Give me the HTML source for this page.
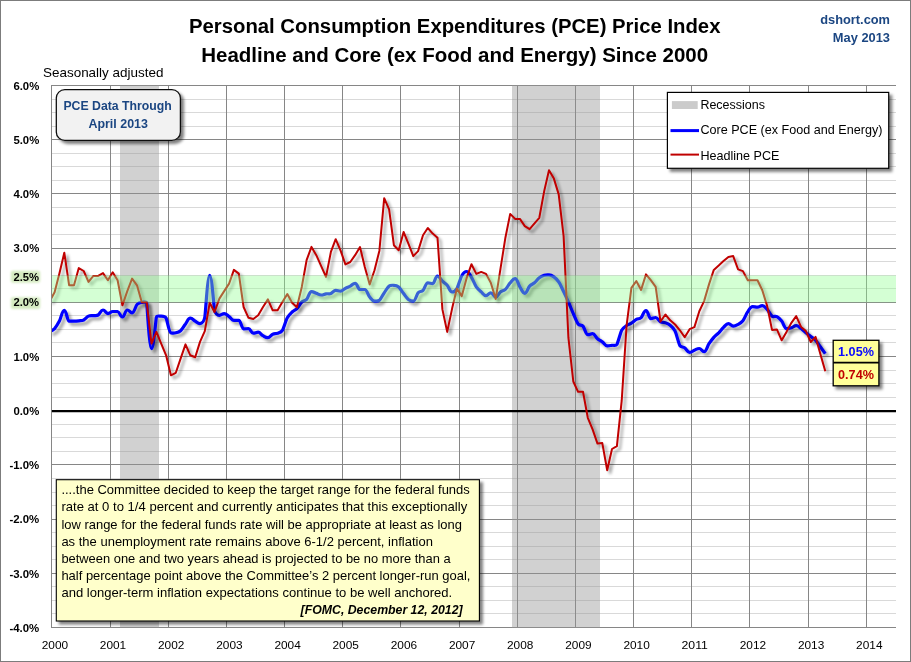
<!DOCTYPE html>
<html><head><meta charset="utf-8"><title>PCE Price Index</title>
<style>html,body{margin:0;padding:0;background:#fff}svg{display:block}text{font-family:"Liberation Sans",Arial,sans-serif}</style></head><body>
<svg width="911" height="662" viewBox="0 0 911 662">
<defs>
<filter id="ls" x="-5%" y="-20%" width="110%" height="140%"><feGaussianBlur in="SourceAlpha" stdDeviation="1.8"/><feOffset dx="2.8" dy="2.8"/><feComponentTransfer><feFuncA type="linear" slope="0.38"/></feComponentTransfer><feMerge><feMergeNode/><feMergeNode in="SourceGraphic"/></feMerge></filter>
<filter id="bs" x="-20%" y="-20%" width="150%" height="160%"><feGaussianBlur in="SourceAlpha" stdDeviation="1.6"/><feOffset dx="3" dy="3"/><feComponentTransfer><feFuncA type="linear" slope="0.5"/></feComponentTransfer><feMerge><feMergeNode/><feMergeNode in="SourceGraphic"/></feMerge></filter>
<filter id="gl" x="-20%" y="-30%" width="140%" height="160%"><feGaussianBlur stdDeviation="1.1"/></filter>
<linearGradient id="gg" x1="0" y1="0" x2="0" y2="1"><stop offset="0" stop-color="#f7f7f7"/><stop offset="1" stop-color="#e6e6e6"/></linearGradient>
<clipPath id="cp"><rect x="52" y="80" width="850" height="552"/></clipPath>
</defs>
<rect width="911" height="662" fill="#fff"/>
<path d="M52 99.5H896M52 112.5H896M52 126.5H896M52 153.5H896M52 166.5H896M52 180.5H896M52 207.5H896M52 221.5H896M52 234.5H896M52 261.5H896M52 275.5H896M52 288.5H896M52 315.5H896M52 329.5H896M52 342.5H896M52 370.5H896M52 383.5H896M52 397.5H896M52 424.5H896M52 437.5H896M52 451.5H896M52 478.5H896M52 492.5H896M52 505.5H896M52 532.5H896M52 546.5H896M52 559.5H896M52 586.5H896M52 600.5H896M52 613.5H896" stroke="#d9d9d9" stroke-width="1" fill="none"/>
<path d="M51 85.5H896M51 139.5H896M51 193.5H896M51 248.5H896M51 302.5H896M51 356.5H896M51 410.5H896M51 464.5H896M51 519.5H896M51 573.5H896M51 627.5H896M51.5 85V628M110.5 85V628M168.5 85V628M226.5 85V628M284.5 85V628M342.5 85V628M400.5 85V628M459.5 85V628M517.5 85V628M575.5 85V628M633.5 85V628M691.5 85V628M749.5 85V628M808.5 85V628M866.5 85V628" stroke="#868686" stroke-width="1" fill="none"/>
<rect x="120" y="85" width="39" height="543" fill="#949494" fill-opacity="0.43"/>
<rect x="512" y="85" width="88" height="543" fill="#949494" fill-opacity="0.43"/>
<path d="M51.9 411.1H896" stroke="#000" stroke-width="2.3"/>
<g clip-path="url(#cp)"><path d="M49.7 331.7C49.7 331.7 53 330.3 54.6 328.6C56.1 326.9 57.7 324.3 59.4 321.1C61.1 317.9 62.1 310.3 64.3 310.3C66.5 310.3 67.2 321.1 69.1 321.1C71.1 321.1 72 321.1 74 321.1C75.9 321.1 76.9 321 78.8 320.8C80.7 320.6 81.9 320.9 83.7 320C85.4 319.1 86.7 316.9 88.5 316.1C90.3 315.3 91.4 315.8 93.4 315.6C95.3 315.4 96.5 316 98.2 315C99.9 314 100.9 310 103 310C105.2 310 105.8 313.6 107.9 313.6C110 313.6 110.8 311.5 112.7 311.5C114.7 311.5 115.7 311.5 117.6 311.5C119.5 311.5 120.3 317 122.4 317C124.6 317 125.1 310 127.3 310C129.5 310 130 312.8 132.1 312.8C134.3 312.8 135.5 306.1 137 304.5C138.4 302.9 139.9 302.3 141.8 302.3C143.8 302.3 146.3 301.1 146.7 303C147.1 304.9 149.3 348.6 151.5 348.6C153.7 348.6 155.8 319.1 156.4 317.2C156.9 315.3 159.2 316.2 161.2 316.2C163.2 316.2 165 316.2 166.1 318C167.1 319.8 169 333 170.9 333C172.9 333 173.9 333.2 175.8 332.8C177.6 332.4 179 332.1 180.6 330.7C182.2 329.3 183.6 326.4 185.5 324C187.3 321.6 188.1 318.2 190.3 318.2C192.5 318.2 193.2 320 195.2 321.1C197.1 322.2 197.8 323.6 200 323.6C202.2 323.6 204.2 320.5 204.8 317.4C205.5 314.3 207.5 275.3 209.7 275.3C211.9 275.3 213.9 307.6 214.5 310.3C215.2 313 217.3 315.3 219.4 315.3C221.4 315.3 222.2 313.6 224.2 313.6C226.3 313.6 227.2 315.3 229.1 316.6C231 317.9 232 320.4 233.9 320.4C235.9 320.4 236.8 320.3 238.8 320.3C240.7 320.3 241.7 328.8 243.6 328.8C245.6 328.8 246.5 328.7 248.5 328.7C250.4 328.7 251.3 333.2 253.3 333.2C255.3 333.2 256.2 332.2 258.2 332.2C260.1 332.2 261.2 334.7 263 335.7C264.8 336.7 265.8 337.6 267.9 337.6C269.9 337.6 270.9 335 272.7 334.2C274.5 333.4 275.7 334 277.6 333.3C279.4 332.6 281.2 332.2 282.4 330.3C283.6 328.4 285.8 320.5 287.3 317.8C288.7 315.1 290.4 313.6 292.1 312C293.8 310.4 295.3 310.3 296.9 308.6C298.6 306.9 300.2 303.5 301.8 302C303.4 300.5 305.1 301 306.6 299.4C308.1 297.8 309.4 291.6 311.5 291.6C313.5 291.6 314.4 292.6 316.3 293.3C318.3 294 319.2 295 321.2 295C323.2 295 324.1 294.1 326 293.8C328 293.5 329.1 294.2 330.9 293.5C332.7 292.8 333.8 290.3 335.7 290.3C337.7 290.3 338.6 291.1 340.6 291.1C342.5 291.1 343.5 289.3 345.4 288.3C347.3 287.3 348.4 287.1 350.3 286.1C352.2 285.1 352.9 283.3 355.1 283.3C357.3 283.3 358 289.5 360 289.5C361.9 289.5 362.9 289.5 364.8 289.5C366.8 289.5 368 295.1 369.7 297C371.3 298.9 372.5 301.1 374.5 301.1C376.5 301.1 377.9 301.6 379.4 300.3C380.8 299 382.3 295.5 384.2 292.8C386.1 290.1 387.5 287.3 389.1 286.1C390.6 284.9 391.9 285.3 393.9 285.3C395.9 285.3 397.2 285.7 398.7 287C400.3 288.3 401.7 291.2 403.6 293.6C405.5 296 406.8 298.3 408.4 299.5C410.1 300.7 411.2 301.1 413.3 301.1C415.3 301.1 416.7 294.4 418.1 292.8C419.6 291.2 421.5 291.9 423 290.3C424.5 288.7 425.9 282.8 427.8 282.8C429.8 282.8 430.7 283.6 432.7 283.6C434.6 283.6 435.3 276.1 437.5 276.1C439.7 276.1 440.5 279.3 442.4 281.1C444.2 282.9 445.5 283.4 447.2 285.3C448.9 287.2 449.9 292 452.1 292C454.3 292 455.7 290.6 456.9 288.6C458.1 286.6 460.5 277.9 461.8 275.7C463 273.5 464.4 271.5 466.6 271.5C468.8 271.5 469.8 274.8 471.5 277.4C473.1 280 474.8 284.6 476.3 286.9C477.9 289.2 479.3 290.3 481.2 291.9C483 293.5 483.8 295.6 486 295.6C488.2 295.6 488.7 292.8 490.8 292.8C493 292.8 493.5 296.9 495.7 296.9C497.9 296.9 498.8 293.2 500.5 291.9C502.3 290.6 503.8 290.9 505.4 289.4C507 287.9 508.5 284.7 510.2 282.8C512 280.9 512.9 278.6 515.1 278.6C517.3 278.6 518.2 284.2 519.9 286.9C521.7 289.6 522.6 293.3 524.8 293.3C527 293.3 528 287.8 529.6 286.1C531.2 284.4 532.7 284.3 534.5 282.8C536.3 281.3 537.6 279.1 539.3 277.8C541 276.5 542.3 275.9 544.2 275.3C546 274.7 547.1 274.9 549 274.9C551 274.9 552.2 275.7 553.9 276.9C555.6 278.1 557.2 279.6 558.7 281.9C560.3 284.2 561.7 287.6 563.6 291.5C565.4 295.4 566.6 297.7 568.4 301.9C570.3 306.1 571.4 309.4 573.3 313.6C575.1 317.8 576.8 322.3 578.1 324C579.4 325.7 581.5 324.5 583 326.1C584.4 327.7 585.8 334.7 587.8 334.7C589.8 334.7 590.7 333.6 592.6 333.6C594.6 333.6 595.7 337.2 597.5 338.7C599.3 340.2 600.5 340.5 602.3 341.9C604.2 343.3 605.2 345.9 607.2 345.9C609.1 345.9 610.1 345.6 612 345.3C614 345 615.8 346.1 616.9 344.4C617.9 342.7 620.5 332.6 621.7 330.2C623 327.8 624.8 326.9 626.6 325.6C628.3 324.3 629.6 324.4 631.4 323.2C633.2 322 634.5 320.4 636.3 319.4C638.1 318.4 639.6 319.1 641.1 317.7C642.6 316.3 643.8 310.6 646 310.6C648.2 310.6 648.8 318.6 650.8 318.6C652.8 318.6 653.7 317.5 655.7 317.5C657.7 317.5 658.8 321 660.5 321.9C662.2 322.8 663.5 322.1 665.4 322.7C667.2 323.3 668.6 323.8 670.2 325.2C671.9 326.6 673.7 328.3 675.1 331.1C676.4 333.9 678.8 343.9 679.9 345.7C681 347.5 683 346.6 684.7 347.8C686.5 349 687.5 352.4 689.6 352.4C691.7 352.4 692.5 351 694.4 350.2C696.4 349.4 697.2 348.5 699.3 348.5C701.3 348.5 702 351.7 704.1 351.7C706.3 351.7 707.2 346.3 709 343.7C710.8 341.1 712.1 339.4 713.8 337.4C715.6 335.4 716.8 334.7 718.7 332.8C720.5 330.9 721.7 329.1 723.5 327.4C725.3 325.7 726.2 323.6 728.4 323.6C730.6 323.6 731.2 326.1 733.2 326.1C735.3 326.1 736.3 325.4 738.1 324.4C739.9 323.4 741.4 322.6 742.9 320.7C744.4 318.8 746.2 313.9 747.8 311.6C749.3 309.3 750.7 306.7 752.6 306.7C754.6 306.7 755.5 307.2 757.5 307.2C759.4 307.2 760.3 305.6 762.3 305.6C764.4 305.6 765.5 307.6 767.2 309.4C768.8 311.2 770.4 314.9 772 316.1C773.6 317.3 775.1 315.7 776.9 316.6C778.6 317.5 780 319 781.7 321.1C783.4 323.2 784.6 328.6 786.5 328.6C788.5 328.6 789.5 328.4 791.4 327.8C793.3 327.2 794.1 325.6 796.2 325.6C798.4 325.6 799.3 327.2 801.1 328.6C802.9 330 804 331.2 805.9 332.8C807.8 334.4 808.9 335.1 810.8 336.6C812.7 338.1 814 338.5 815.6 340.3C817.3 342.1 818.5 344.4 820.5 347C822.4 349.6 825.3 353.6 825.3 353.6" stroke="#0000ff" stroke-width="3.2" fill="none" stroke-linejoin="round" stroke-linecap="butt" filter="url(#ls)"/>
<path d="M49.7 301.2L54.6 292.2L59.4 273.4L64.3 252.7L69.1 285.2L74 285.2L78.8 268.1L83.7 271L88.5 281.9L93.4 275.9L98.2 275.9L103 273.1L107.9 280.2L112.7 272.3L117.6 280.2L122.4 305.3L127.3 291.1L132.1 278.6L137 285.3L141.8 302.2L146.7 302.2L151.5 343.6L156.4 331.9L161.2 343.6L166.1 355.3L170.9 375.3L175.8 372.8L180.6 358.6L185.5 344.4L190.3 355.3L195.2 357.3L200 341.9L204.8 331.1L209.7 302.8L214.5 312L219.4 298.6L224.2 291.1L229.1 283.6L233.9 269.9L238.8 273.6L243.6 307L248.5 317.8L253.3 319L258.2 315.3L263 307L267.9 299.4L272.7 310.3L277.6 310.3L282.4 302L287.3 294.1L292.1 302.8L296.9 307.3L301.8 286.9L306.6 260.2L311.5 246.9L316.3 255.2L321.2 266.1L326 276.9L330.9 251.9L335.7 239.2L340.6 250.7L345.4 264.4L350.3 262L355.1 255.2L360 247L364.8 266.9L369.7 284.4L374.5 270.3L379.4 250.7L384.2 198.2L389.1 209.4L393.9 245.2L398.7 250.2L403.6 232L408.4 243.6L413.3 256.1L418.1 251.1L423 235.2L427.8 228L432.7 233.6L437.5 237.7L442.4 309.4L447.2 331.9L452.1 308.6L456.9 288.6L461.8 296.1L466.6 278.2L471.5 264.2L476.3 273.9L481.2 271.9L486 273.9L490.8 282.8L495.7 298.9L500.5 268.6L505.4 237.7L510.2 213.9L515.1 218.9L519.9 218.9L524.8 226.1L529.6 229.1L534.5 223.3L539.3 217.8L544.2 191.1L549 170.2L553.9 178.6L558.7 194.4L563.6 236L568.4 337.7L573.3 381.5L578.1 391.8L583 391.8L587.8 417.8L592.6 429.4L597.5 443.6L602.3 443.1L607.2 470.3L612 449L616.9 446.1L621.7 400.7L626.6 325.3L631.4 287.8L636.3 281.1L641.1 289.9L646 274.4L650.8 280.2L655.7 286.9L660.5 321.5L665.4 314.5L670.2 320.3L675.1 324.5L679.9 330.3L684.7 337.2L689.6 329.2L694.4 327.1L699.3 311.2L704.1 301.1L709 284.4L713.8 269.9L718.7 265.6L723.5 261.1L728.4 256.9L733.2 256.1L738.1 269.4L742.9 271.1L747.8 280.2L752.6 280.2L757.5 280.2L762.3 290.2L767.2 306.1L772 329.9L776.9 329.4L781.7 340.3L786.5 331.9L791.4 322.8L796.2 316.1L801.1 326.9L805.9 331.1L810.8 342L815.6 336.9L820.5 354.5L825.3 371.2" stroke="#c00000" stroke-width="2" fill="none" stroke-linejoin="round" filter="url(#ls)"/></g>
<rect x="52" y="275.5" width="844" height="26.8" fill="#91ff91" fill-opacity="0.39"/>
<rect x="10.8" y="270.7" width="29.4" height="12" rx="2" fill="#d4eac0" filter="url(#gl)"/>
<rect x="10.8" y="297.2" width="29.4" height="11.7" rx="2" fill="#d4eac0" filter="url(#gl)"/>
<text x="39.3" y="89.8" font-size="11.6" text-anchor="end" font-weight="bold" textLength="25.9" lengthAdjust="spacingAndGlyphs">6.0%</text>
<text x="39.3" y="144" font-size="11.6" text-anchor="end" font-weight="bold" textLength="25.9" lengthAdjust="spacingAndGlyphs">5.0%</text>
<text x="39.3" y="198.2" font-size="11.6" text-anchor="end" font-weight="bold" textLength="25.9" lengthAdjust="spacingAndGlyphs">4.0%</text>
<text x="39.3" y="252.4" font-size="11.6" text-anchor="end" font-weight="bold" textLength="25.9" lengthAdjust="spacingAndGlyphs">3.0%</text>
<text x="39.3" y="360.8" font-size="11.6" text-anchor="end" font-weight="bold" textLength="25.9" lengthAdjust="spacingAndGlyphs">1.0%</text>
<text x="39.3" y="415" font-size="11.6" text-anchor="end" font-weight="bold" textLength="25.9" lengthAdjust="spacingAndGlyphs">0.0%</text>
<text x="39.3" y="469.2" font-size="11.6" text-anchor="end" font-weight="bold" textLength="29.9" lengthAdjust="spacingAndGlyphs">-1.0%</text>
<text x="39.3" y="523.4" font-size="11.6" text-anchor="end" font-weight="bold" textLength="29.9" lengthAdjust="spacingAndGlyphs">-2.0%</text>
<text x="39.3" y="577.6" font-size="11.6" text-anchor="end" font-weight="bold" textLength="29.9" lengthAdjust="spacingAndGlyphs">-3.0%</text>
<text x="39.3" y="631.8" font-size="11.6" text-anchor="end" font-weight="bold" textLength="29.9" lengthAdjust="spacingAndGlyphs">-4.0%</text>
<text x="39" y="280.6" font-size="11.6" text-anchor="end" font-weight="bold" textLength="25.6" lengthAdjust="spacingAndGlyphs">2.5%</text>
<text x="39" y="306.4" font-size="11.6" text-anchor="end" font-weight="bold" textLength="25.6" lengthAdjust="spacingAndGlyphs">2.0%</text>
<text x="54.9" y="649.2" font-size="11.2" text-anchor="middle" textLength="26.4" lengthAdjust="spacingAndGlyphs">2000</text>
<text x="113" y="649.2" font-size="11.2" text-anchor="middle" textLength="26.4" lengthAdjust="spacingAndGlyphs">2001</text>
<text x="171.2" y="649.2" font-size="11.2" text-anchor="middle" textLength="26.4" lengthAdjust="spacingAndGlyphs">2002</text>
<text x="229.4" y="649.2" font-size="11.2" text-anchor="middle" textLength="26.4" lengthAdjust="spacingAndGlyphs">2003</text>
<text x="287.6" y="649.2" font-size="11.2" text-anchor="middle" textLength="26.4" lengthAdjust="spacingAndGlyphs">2004</text>
<text x="345.7" y="649.2" font-size="11.2" text-anchor="middle" textLength="26.4" lengthAdjust="spacingAndGlyphs">2005</text>
<text x="403.9" y="649.2" font-size="11.2" text-anchor="middle" textLength="26.4" lengthAdjust="spacingAndGlyphs">2006</text>
<text x="462.1" y="649.2" font-size="11.2" text-anchor="middle" textLength="26.4" lengthAdjust="spacingAndGlyphs">2007</text>
<text x="520.2" y="649.2" font-size="11.2" text-anchor="middle" textLength="26.4" lengthAdjust="spacingAndGlyphs">2008</text>
<text x="578.4" y="649.2" font-size="11.2" text-anchor="middle" textLength="26.4" lengthAdjust="spacingAndGlyphs">2009</text>
<text x="636.6" y="649.2" font-size="11.2" text-anchor="middle" textLength="26.4" lengthAdjust="spacingAndGlyphs">2010</text>
<text x="694.7" y="649.2" font-size="11.2" text-anchor="middle" textLength="26.4" lengthAdjust="spacingAndGlyphs">2011</text>
<text x="752.9" y="649.2" font-size="11.2" text-anchor="middle" textLength="26.4" lengthAdjust="spacingAndGlyphs">2012</text>
<text x="811.1" y="649.2" font-size="11.2" text-anchor="middle" textLength="26.4" lengthAdjust="spacingAndGlyphs">2013</text>
<text x="869.3" y="649.2" font-size="11.2" text-anchor="middle" textLength="26.4" lengthAdjust="spacingAndGlyphs">2014</text>
<text x="454.7" y="33.3" font-size="20" text-anchor="middle" font-weight="bold" textLength="531.5" lengthAdjust="spacingAndGlyphs">Personal Consumption Expenditures (PCE) Price Index</text>
<text x="454.7" y="61.7" font-size="20" text-anchor="middle" font-weight="bold" textLength="507" lengthAdjust="spacingAndGlyphs">Headline and Core (ex Food and Energy) Since 2000</text>
<text x="43" y="76.7" font-size="12.4" textLength="120.4" lengthAdjust="spacingAndGlyphs">Seasonally adjusted</text>
<text x="890" y="24" font-size="12.2" text-anchor="end" font-weight="bold" fill="#1b4682" textLength="69.8" lengthAdjust="spacingAndGlyphs">dshort.com</text>
<text x="890" y="42.2" font-size="12.2" text-anchor="end" font-weight="bold" fill="#1b4682" textLength="57.2" lengthAdjust="spacingAndGlyphs">May 2013</text>
<rect x="56.3" y="89.6" width="124.1" height="50.8" rx="8.5" fill="#f2f2f2" stroke="#111" stroke-width="1.3" filter="url(#bs)"/>
<text x="117.6" y="109.6" font-size="12.6" text-anchor="middle" font-weight="bold" fill="#1b4682" textLength="108.4" lengthAdjust="spacingAndGlyphs">PCE Data Through</text>
<text x="118.2" y="127.8" font-size="12.6" text-anchor="middle" font-weight="bold" fill="#1b4682" textLength="59.5" lengthAdjust="spacingAndGlyphs">April 2013</text>
<rect x="667.4" y="92.4" width="221.3" height="75.9" fill="#fff" stroke="#000" stroke-width="1.2" filter="url(#bs)"/>
<rect x="671.9" y="101.1" width="25.8" height="7.9" fill="#cbcbcb"/>
<path d="M670.5 130.6H699" stroke="#0000ff" stroke-width="3"/>
<path d="M670.5 154.6H699" stroke="#c00000" stroke-width="2"/>
<text x="700.4" y="109" font-size="13.2" textLength="64.6" lengthAdjust="spacingAndGlyphs">Recessions</text>
<text x="700.4" y="134.1" font-size="13.2" textLength="182" lengthAdjust="spacingAndGlyphs">Core PCE (ex Food and Energy)</text>
<text x="700.4" y="159.6" font-size="13.2" textLength="79" lengthAdjust="spacingAndGlyphs">Headline PCE</text>
<g filter="url(#bs)"><rect x="833.2" y="340.3" width="45.7" height="45.5" fill="#ffff99" stroke="#000" stroke-width="1.3"/></g>
<path d="M833.2 362.6H878.9" stroke="#000" stroke-width="1.8"/>
<text x="856" y="355.9" font-size="12.8" text-anchor="middle" font-weight="bold" fill="#0a0aff" textLength="35.8" lengthAdjust="spacingAndGlyphs">1.05%</text>
<text x="856" y="378.8" font-size="12.8" text-anchor="middle" font-weight="bold" fill="#c00000" textLength="35.8" lengthAdjust="spacingAndGlyphs">0.74%</text>
<rect x="56.3" y="479.7" width="423.1" height="141.3" fill="#ffffcb" stroke="#000" stroke-width="1.1" filter="url(#bs)"/>
<text x="61.4" y="493.7" font-size="12.7" textLength="408.4" lengthAdjust="spacingAndGlyphs">....the Committee decided to keep the target range for the federal funds</text>
<text x="61.4" y="510.8" font-size="12.7" textLength="405.8" lengthAdjust="spacingAndGlyphs">rate at 0 to 1/4 percent and currently anticipates that this exceptionally</text>
<text x="61.4" y="528.5" font-size="12.7" textLength="400.5" lengthAdjust="spacingAndGlyphs">low range for the federal funds rate will be appropriate at least as long</text>
<text x="61.4" y="545.9" font-size="12.7" textLength="371.5" lengthAdjust="spacingAndGlyphs">as the unemployment rate remains above 6-1/2 percent, inflation</text>
<text x="61.4" y="562.7" font-size="12.7" textLength="389.2" lengthAdjust="spacingAndGlyphs">between one and two years ahead is projected to be no more than a</text>
<text x="61.4" y="579.9" font-size="12.7" textLength="409" lengthAdjust="spacingAndGlyphs">half percentage point above the Committee’s 2 percent longer-run goal,</text>
<text x="61.4" y="597" font-size="12.7" textLength="390.8" lengthAdjust="spacingAndGlyphs">and longer-term inflation expectations continue to be well anchored.</text>
<text x="462.6" y="614.4" font-size="12.7" text-anchor="end" font-weight="bold" font-style="italic" textLength="162" lengthAdjust="spacingAndGlyphs">[FOMC, December 12, 2012]</text>
<rect x="0.5" y="0.5" width="910" height="661" fill="none" stroke="#7c7c7c" stroke-width="1"/>
</svg></body></html>
